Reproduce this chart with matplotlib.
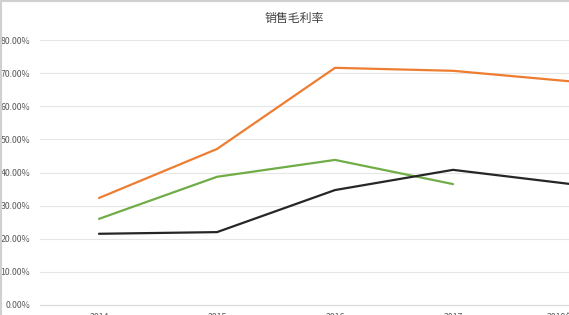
import matplotlib
matplotlib.use("Agg")
import matplotlib.pyplot as plt
from matplotlib.ticker import FuncFormatter
import numpy as np

plt.rcParams['font.family'] = ['Noto Sans CJK SC', 'DejaVu Sans']

years = ["2014", "2015", "2016", "2017", "2018年1-6月"]
orange_vals = [0.323, 0.471, 0.716, 0.707, 0.675]
green_vals = [0.260, 0.387, 0.438, 0.365]
black_vals = [0.215, 0.220, 0.347, 0.408, 0.365]
yticks = [0.0, 0.1, 0.2, 0.3, 0.4, 0.5, 0.6, 0.7, 0.8]

W, H = 569, 315
fig = plt.figure(figsize=(W / 100, H / 100), dpi=100)

# axes runs past the right edge like the cropped screenshot
ax = fig.add_axes([40 / W, 10 / H, 590 / W, 265 / H])

x = np.arange(len(years))
ax.plot(x, orange_vals, color="#ED7D31", lw=1.6, solid_capstyle="round")
ax.plot(x[:len(green_vals)], green_vals, color="#70AD47", lw=1.6, solid_capstyle="round")
ax.plot(x, black_vals, color="#262626", lw=1.6, solid_capstyle="round")

ax.set_xlim(-0.5, len(years) - 0.5)
ax.set_ylim(0, 0.8)
ax.set_yticks(yticks)
ax.yaxis.set_major_formatter(FuncFormatter(lambda v, p: f"{v * 100:.2f}%"))
ax.set_xticks(x)
ax.set_xticklabels(years)

ax.grid(axis="y", color="#e6e6e6", lw=0.8)
ax.set_axisbelow(True)
for s in ["top", "right", "left"]:
    ax.spines[s].set_visible(False)
ax.spines["bottom"].set_color("#d9d9d9")
ax.tick_params(axis="both", length=0, labelsize=6.3, colors="#595959")
ax.tick_params(axis="y", pad=7)
ax.tick_params(axis="x", pad=6)

fig.text(294 / W, 1 - 18 / H, "销售毛利率", ha="center", va="center",
         fontsize=8.6, color="#404040")

# thin frame on left and top, as in the screenshot
fig.add_artist(plt.Line2D([0.002, 0.002], [0, 1], color="#d0d0d0", lw=1.5, transform=fig.transFigure))
fig.add_artist(plt.Line2D([0, 1], [0.997, 0.997], color="#d0d0d0", lw=1.5, transform=fig.transFigure))

fig.savefig("out.png", dpi=100)
